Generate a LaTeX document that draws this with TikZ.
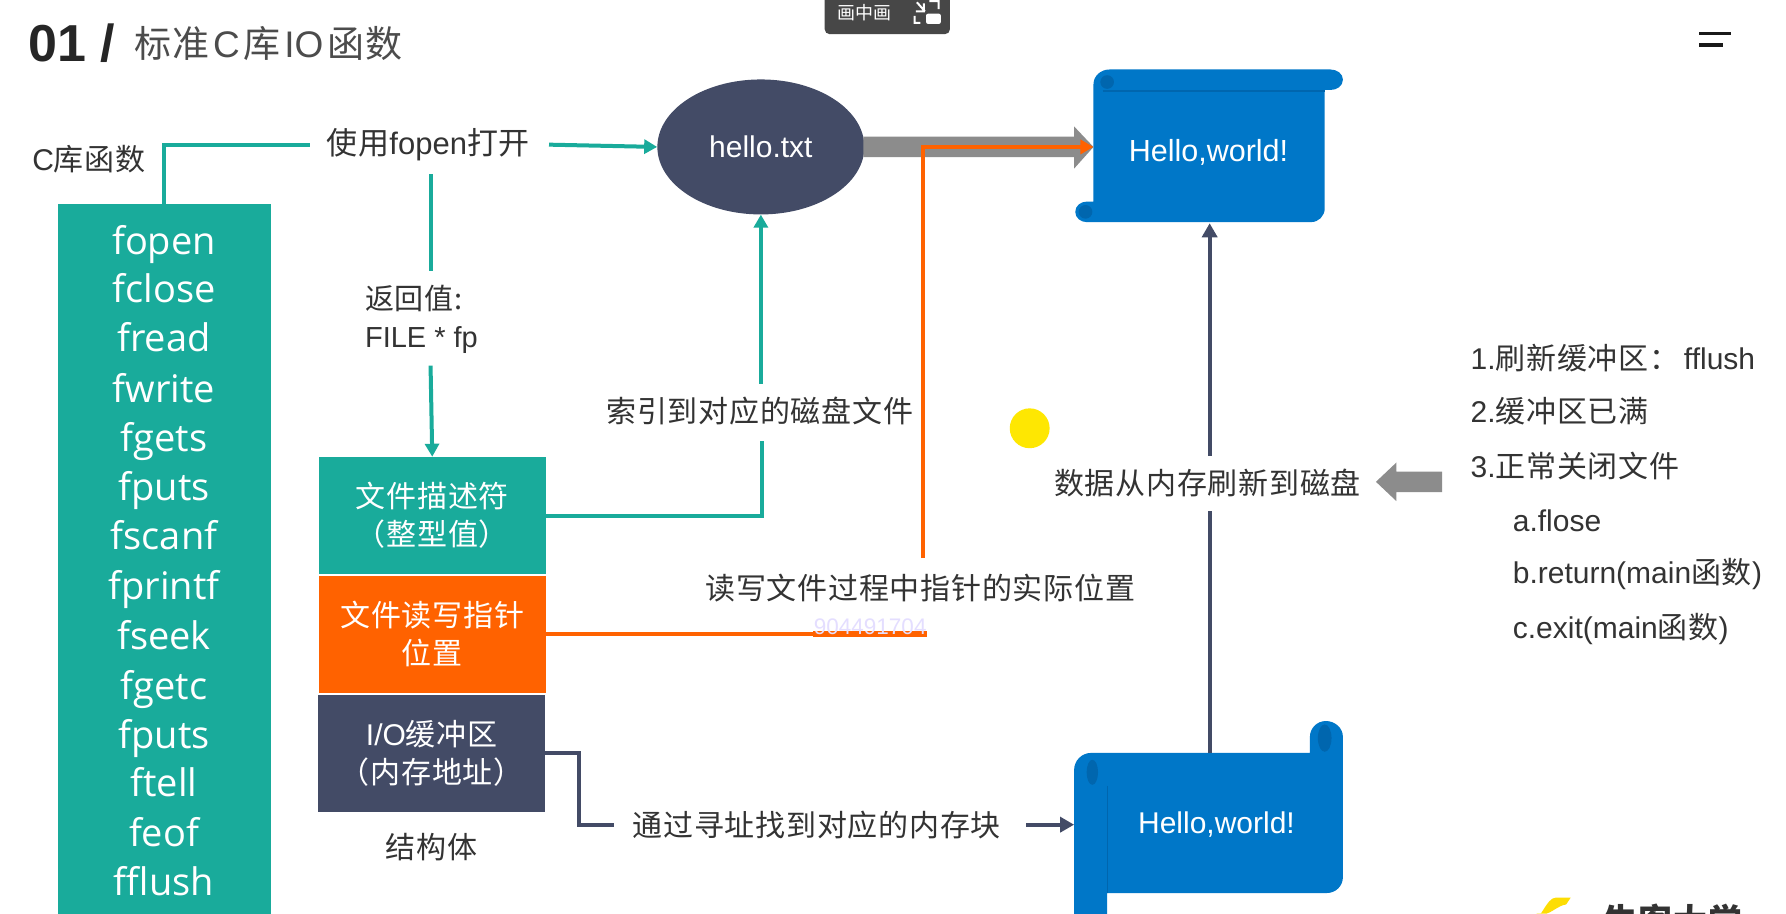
\documentclass[tikz,border=0pt]{standalone}
\usepackage{fontspec}
\setmainfont{Noto Sans CJK SC}[LetterSpace=2.5]
\newfontfamily\latinf{Liberation Sans}
\newfontfamily\fnf{Open Sans}
\newfontfamily\boldf{Liberation Sans}[BoldFont={Liberation Sans Bold}]
\newcommand{\la}[1]{{\latinf #1}}
\usetikzlibrary{arrows.meta,positioning,shapes.geometric}
\definecolor{teal1}{HTML}{19AB9B}
\definecolor{navy1}{HTML}{434B66}
\definecolor{orange1}{HTML}{FF6200}
\definecolor{blue1}{HTML}{0077C8}
\definecolor{blue2}{HTML}{0066AE}
\definecolor{gray1}{HTML}{8C8C8C}
\definecolor{txt}{HTML}{333333}
\definecolor{wmark}{HTML}{E4DEFF}
\tikzset{
  x=1.139pt,y=-1.139pt,
  lbl/.style={font=\fontsize{30}{36}\selectfont,text=txt,align=center,inner sep=0pt},
  fn/.style={font=\fnf\fontsize{38}{40}\selectfont,text=white,inner sep=0pt,anchor=base},
  cell/.style={minimum width=227pt,minimum height=117pt,inner sep=0pt,text=white,align=center,font=\fontsize{30}{38}\selectfont},
  tealline/.style={draw=teal1,line width=4pt},
  navyline/.style={draw=navy1,line width=4pt},
  orangeline/.style={draw=orange1,line width=4pt},
  side/.style={font=\fontsize{30}{34}\selectfont,text=txt,anchor=west,inner sep=0pt},
  tealhead/.style={-{Triangle[length=13pt,width=14pt]}},
  navyhead/.style={-{Triangle[length=14pt,width=15pt]}}
}
\begin{document}
\begin{tikzpicture}
\useasboundingbox (0,0) rectangle (1568,801.6);
\fill[white] (0,0) rectangle (1568,801.6);
% title
\node[anchor=west,inner sep=0pt,text=black!85,font=\boldf\bfseries\fontsize{52}{52}\selectfont] (num) at (25,38) {01 /};
\node[anchor=west,inner sep=0pt,text=black!70,font=\fontsize{37}{40}\selectfont] (title) at (118,38) {标准\hspace{0.1em}\la{C}\hspace{0.1em}库\hspace{0.1em}\la{IO}\hspace{0.1em}函数};
% pip badge
\fill[black!72,rounded corners=5pt] (724,-10) rectangle (834,30);
\node[inner sep=0pt,text=white,font=\fontsize{18}{18}\selectfont] (pip) at (759,11) {画中画};
\draw[white,line width=2pt] (805,2) -- (812,10) (811,3)--(811,10)--(804,10) (816,1)--(824,1)--(824,8) (803,14)--(803,20)--(808,20);
\fill[white,rounded corners=2pt] (813,12) rectangle (826,21);
% menu icon
\draw[black!90,line width=3.5pt] (1492,29.6) -- (1520,29.6) (1492,39.6) -- (1513,39.6);
% function column
\fill[teal1] (51,179) rectangle (238,802);
\foreach \t/\y/\n in {fopen/212/a,fclose/255/b,fread/298/c,fwrite/342/d,fgets/385/e,fputs/428/f,fscanf/471/g,fprintf/515/h,fseek/559/i,fgetc/603/j,fputs/646/k,ftell/688/l,feof/732/m,fflush/775/n}
  \node[fn] (fn\n) at (144,\y+11) {\t};
\node[lbl] (clib) at (78,140) {\la{C}库函数};
% labels
\node[lbl,font=\fontsize{31}{36}\selectfont] (fopenl) at (376,127) {使用\la{fopen}打开};
\node[lbl,align=left,font=\fontsize{29}{38}\selectfont] (ret) at (370,280) {返回值:\\\la{FILE * fp}};
% ellipse
\node[ellipse,fill=navy1,minimum width=207pt,minimum height=135pt,inner sep=0pt,text=white,font=\latinf\fontsize{30}{36}\selectfont] (hello) at (668,129) {hello.txt};
% cells
\node[cell,fill=teal1] (fd) at (379.5,452.5) {文件描述符\\（整型值）};
\node[cell,fill=orange1] (ptr) at (379.5,557) {文件读写指针\\位置};
\node[cell,fill=navy1] (buf) at (379,661.5) {\la{I/O}缓冲区\\（内存地址）};
\node[lbl] (st) at (379,744) {结构体};
\node[lbl] (idx) at (667,361) {索引到对应的磁盘文件};
\node[lbl] (rw) at (808,516) {读写文件过程中指针的实际位置};
\node[lbl] (addr) at (717,724) {通过寻址找到对应的内存块};
\node[lbl] (flush) at (1060,424) {数据从内存刷新到磁盘};
% top scroll
\path[fill=blue1] (974,61) -- (1168,61) to[out=0,in=90] (1179,70) to[out=-90,in=0] (1168,79) -- (1163,79) -- (1163,183) to[out=-90,in=0] (1151,195) -- (954,195) to[out=180,in=-90] (944,186) to[out=90,in=180] (954,177) -- (960,177) -- (960,74) to[out=90,in=180] (974,61) -- cycle;
\draw[blue2,line width=1.5pt] (968,80) -- (1163,80);
\fill[blue2] (972,72) circle[radius=6];
\fill[blue2] (953,186) circle[radius=6];
\node[inner sep=0pt,text=white,font=\latinf\fontsize{30.5}{36}\selectfont] (scr1) at (1061,134) {Hello,world!};
% bottom scroll
\path[fill=blue1] (958,661) -- (1150,661) -- (1150,647) to[out=90,in=180] (1164,633) to[out=0,in=90] (1179,647) -- (1179,770) to[out=-90,in=0] (1165,784) -- (972,784) -- (972,810) -- (943,810) -- (943,676) to[out=90,in=180] (958,661) -- cycle;
\fill[blue2] (959,678) ellipse[x radius=5,y radius=11];
\fill[blue2] (1163,648) ellipse[x radius=6,y radius=12];
\draw[blue2,line width=1pt] (972,690) -- (972,784);
\node[inner sep=0pt,text=white,font=\latinf\fontsize{30}{36}\selectfont] (scr2) at (1068,724) {Hello,world!};
% connectors
\draw[tealline] (144,179) -- (144,127) -- (272,127);
\coordinate (fopenr) at (482,127);
\draw[tealline,tealhead] (fopenr) -- (hello.west);
\draw[tealline] (378,153) -- (378,238);
\draw[tealline,tealhead] (378,321) -- (fd.north);
\draw[tealline] (fd.east |- 0,453) -- (669,453) -- (669,387);
\draw[tealline,tealhead] (668,337) -- (hello.south);
\fill[gray1] (758,120) -- (943,120) -- (943,111) -- (960,129) -- (943,148) -- (943,138) -- (758,138) -- cycle;
\draw[orangeline] (ptr.east |- 0,557) -- (813,557);
\draw[orangeline,-{Triangle[length=13pt,width=14pt]}] (810,490) -- (810,129) -- (960,129);
\draw[navyline] (buf.east |- 0,661) -- (508,661) -- (508,724) -- (539,724);
\draw[navyline,navyhead] (901,724) -- (943,724);
\draw[navyline] (1062,661) -- (1062,449);
\draw[navyline,navyhead] (1062,400) -- (1062,196);
% grey block arrow
\fill[gray1] (1266,414) -- (1226,414) -- (1226,406) -- (1208,423) -- (1226,440) -- (1226,432) -- (1266,432) -- cycle;
% side list
\node[side] (s1) at (1291,314) {\la{1.}刷新缓冲区：\hspace{0.15em}\la{fflush}};
\node[side] (s2) at (1291,361) {\la{2.}缓冲区已满};
\node[side] (s3) at (1291,409) {\la{3.}正常关闭文件};
\node[side] (s4) at (1328,457) {\la{a.flose}};
\node[side] (s5) at (1328,504) {\la{b.return(main}函数\la{)}};
\node[side] (s6) at (1328,552) {\la{c.exit(main}函数\la{)}};
% pointer dot
\fill[yellow!90!orange] (904,376) circle[radius=17.5];
% watermark
\fill[orange1] (714,554) rectangle (814,559);
\node[inner sep=0pt,text=wmark,font=\boldf\fontsize{22.5}{22}\selectfont] (wm) at (764,550) {904491704};
% logo
\fill[yellow!80!orange] (1349,802) to[out=-70,in=180] (1366,788) -- (1379,788) -- (1375,794) to[out=190,in=20] (1358,802) -- cycle;
\node[anchor=west,inner sep=0pt,text=black!80,font=\bfseries\fontsize{34}{34}\selectfont] (logo) at (1408,808) {牛客大学};
\end{tikzpicture}
\end{document}
